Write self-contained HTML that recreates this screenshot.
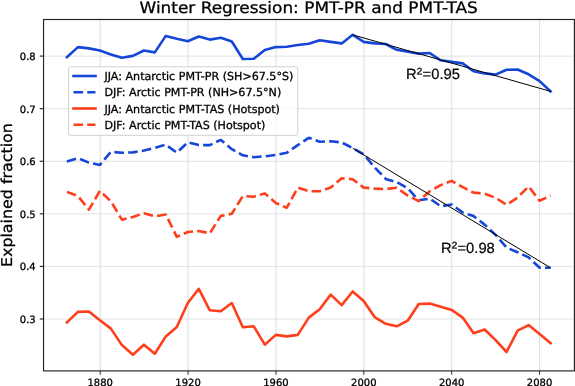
<!DOCTYPE html>
<html><head><meta charset="utf-8"><title>Winter Regression: PMT-PR and PMT-TAS</title>
<style>
html,body{margin:0;padding:0;background:#fff;overflow:hidden;}
svg{display:block}
text{text-rendering:geometricPrecision;font-family:"DejaVu Sans","Liberation Sans",sans-serif;fill:#000;stroke:#000;stroke-width:0.3px}
.r2{font-family:"Liberation Sans",Arial,sans-serif;font-size:14.75px;stroke-width:0.2px}
.tick{font-size:10.0px}
.leg{font-size:11.1px}
</style></head><body>
<svg width="575" height="386" viewBox="0 0 575 386">
<rect width="575" height="386" fill="#fff"/>

<line x1="100.20" y1="19.5" x2="100.20" y2="370.9" stroke="#d9d9d9" stroke-width="0.9"/>
<line x1="188.08" y1="19.5" x2="188.08" y2="370.9" stroke="#d9d9d9" stroke-width="0.9"/>
<line x1="275.96" y1="19.5" x2="275.96" y2="370.9" stroke="#d9d9d9" stroke-width="0.9"/>
<line x1="363.84" y1="19.5" x2="363.84" y2="370.9" stroke="#d9d9d9" stroke-width="0.9"/>
<line x1="451.72" y1="19.5" x2="451.72" y2="370.9" stroke="#d9d9d9" stroke-width="0.9"/>
<line x1="539.60" y1="19.5" x2="539.60" y2="370.9" stroke="#d9d9d9" stroke-width="0.9"/>
<line x1="43.55" y1="56.10" x2="574.4" y2="56.10" stroke="#dcdcdc" stroke-width="0.8"/>
<line x1="43.55" y1="108.68" x2="574.4" y2="108.68" stroke="#dcdcdc" stroke-width="0.8"/>
<line x1="43.55" y1="161.26" x2="574.4" y2="161.26" stroke="#dcdcdc" stroke-width="0.8"/>
<line x1="43.55" y1="213.84" x2="574.4" y2="213.84" stroke="#dcdcdc" stroke-width="0.8"/>
<line x1="43.55" y1="266.42" x2="574.4" y2="266.42" stroke="#dcdcdc" stroke-width="0.8"/>
<line x1="43.55" y1="319.00" x2="574.4" y2="319.00" stroke="#dcdcdc" stroke-width="0.8"/>
<polyline points="66.9,57.2 77.9,47.1 88.9,48.4 99.9,50.5 110.9,54.4 121.9,57.8 132.9,55.9 143.9,50.5 154.8,52.4 165.8,35.9 176.8,38.8 187.8,41.3 198.8,36.5 209.8,39.6 220.8,37.7 231.8,41.5 242.8,59.0 253.8,58.8 264.8,49.9 275.8,47.1 286.8,46.7 297.8,45.0 308.8,43.8 319.7,40.2 330.7,41.9 341.7,43.4 352.7,34.8 363.7,41.9 374.7,43.4 385.7,44.0 396.7,49.8 407.7,51.7 418.7,53.6 429.7,53.0 440.7,60.3 451.7,61.9 462.7,63.4 473.6,71.2 484.6,73.4 495.6,74.6 506.6,69.8 517.6,69.5 528.6,74.3 539.6,81.1 550.6,91.4" fill="none" stroke="#1646d8" stroke-width="2.6" stroke-linejoin="round" stroke-linecap="square"/>
<polyline points="66.9,161.6 77.9,158.2 88.9,162.6 99.9,164.9 110.9,151.8 121.9,152.8 132.9,152.4 143.9,150.5 154.8,148.0 165.8,144.7 176.8,152.6 187.8,142.4 198.8,145.1 209.8,145.1 220.8,139.9 231.8,149.2 242.8,155.3 253.8,157.2 264.8,156.3 275.8,154.9 286.8,152.8 297.8,145.1 308.8,137.8 319.7,141.7 330.7,141.3 341.7,142.4 352.7,148.2 363.7,154.3 374.7,167.4 385.7,178.9 396.7,182.1 407.7,188.2 418.7,200.3 429.7,198.6 440.7,206.3 451.7,204.5 462.7,212.5 473.6,216.1 484.6,224.6 495.6,234.9 506.6,247.6 517.6,252.2 528.6,257.4 539.6,267.8 550.6,267.8" fill="none" stroke="#1646d8" stroke-width="2.6" stroke-linejoin="round" stroke-dasharray="9.6 4.2"/>
<polyline points="66.9,322.4 77.9,311.9 88.9,311.5 99.9,320.3 110.9,328.6 121.9,345.1 132.9,354.7 143.9,344.7 154.8,353.7 165.8,336.4 176.8,327.0 187.8,303.0 198.8,288.8 209.8,310.3 220.8,311.3 231.8,303.0 242.8,327.2 253.8,326.3 264.8,344.7 275.8,334.9 286.8,336.4 297.8,334.9 308.8,317.6 319.7,309.2 330.7,294.6 341.7,305.1 352.7,291.5 363.7,300.9 374.7,317.2 385.7,323.8 396.7,326.3 407.7,320.7 418.7,304.0 429.7,303.6 440.7,306.7 451.7,309.9 462.7,317.6 473.6,333.2 484.6,329.5 495.6,340.1 506.6,352.0 517.6,330.6 528.6,325.1 539.6,334.1 550.6,343.1" fill="none" stroke="#ff3e1c" stroke-width="2.6" stroke-linejoin="round" stroke-linecap="square"/>
<polyline points="66.9,191.9 77.9,196.1 88.9,209.7 99.9,190.9 110.9,201.3 121.9,219.7 132.9,217.0 143.9,213.2 154.8,216.3 165.8,214.5 176.8,236.8 187.8,232.0 198.8,231.0 209.8,233.3 220.8,215.9 231.8,213.8 242.8,196.1 253.8,196.7 264.8,193.4 275.8,203.0 286.8,207.7 297.8,187.6 308.8,191.3 319.7,191.3 330.7,187.6 341.7,178.2 352.7,179.2 363.7,187.6 374.7,188.6 385.7,189.1 396.7,187.8 407.7,195.5 418.7,201.1 429.7,191.3 440.7,185.1 451.7,180.9 462.7,187.2 473.6,192.6 484.6,193.6 495.6,197.8 506.6,204.7 517.6,197.6 528.6,186.5 539.6,200.7 550.6,195.5" fill="none" stroke="#ff3e1c" stroke-width="2.6" stroke-linejoin="round" stroke-dasharray="9.6 4.2"/>
<line x1="352.7" y1="34.8" x2="550.6" y2="91.4" stroke="#000" stroke-width="1.0"/>
<line x1="352.7" y1="148.2" x2="550.6" y2="267.8" stroke="#000" stroke-width="1.0"/>
<rect x="43.55" y="19.5" width="530.85" height="351.4" fill="none" stroke="#222" stroke-width="1.15"/>
<line x1="100.20" y1="370.9" x2="100.20" y2="374.79999999999995" stroke="#1a1a1a" stroke-width="0.9"/>
<line x1="188.08" y1="370.9" x2="188.08" y2="374.79999999999995" stroke="#1a1a1a" stroke-width="0.9"/>
<line x1="275.96" y1="370.9" x2="275.96" y2="374.79999999999995" stroke="#1a1a1a" stroke-width="0.9"/>
<line x1="363.84" y1="370.9" x2="363.84" y2="374.79999999999995" stroke="#1a1a1a" stroke-width="0.9"/>
<line x1="451.72" y1="370.9" x2="451.72" y2="374.79999999999995" stroke="#1a1a1a" stroke-width="0.9"/>
<line x1="539.60" y1="370.9" x2="539.60" y2="374.79999999999995" stroke="#1a1a1a" stroke-width="0.9"/>
<line x1="39.75" y1="56.10" x2="43.55" y2="56.10" stroke="#1a1a1a" stroke-width="1.1"/>
<line x1="39.75" y1="108.68" x2="43.55" y2="108.68" stroke="#1a1a1a" stroke-width="1.1"/>
<line x1="39.75" y1="161.26" x2="43.55" y2="161.26" stroke="#1a1a1a" stroke-width="1.1"/>
<line x1="39.75" y1="213.84" x2="43.55" y2="213.84" stroke="#1a1a1a" stroke-width="1.1"/>
<line x1="39.75" y1="266.42" x2="43.55" y2="266.42" stroke="#1a1a1a" stroke-width="1.1"/>
<line x1="39.75" y1="319.00" x2="43.55" y2="319.00" stroke="#1a1a1a" stroke-width="1.1"/>
<text class="tick" x="100.20" y="386.2" text-anchor="middle">1880</text>
<text class="tick" x="188.08" y="386.2" text-anchor="middle">1920</text>
<text class="tick" x="275.96" y="386.2" text-anchor="middle">1960</text>
<text class="tick" x="363.84" y="386.2" text-anchor="middle">2000</text>
<text class="tick" x="451.72" y="386.2" text-anchor="middle">2040</text>
<text class="tick" x="539.60" y="386.2" text-anchor="middle">2080</text>
<text class="tick" x="35.7" y="60.13" text-anchor="end">0.8</text>
<text class="tick" x="35.7" y="112.71" text-anchor="end">0.7</text>
<text class="tick" x="35.7" y="165.29" text-anchor="end">0.6</text>
<text class="tick" x="35.7" y="217.87" text-anchor="end">0.5</text>
<text class="tick" x="35.7" y="270.45" text-anchor="end">0.4</text>
<text class="tick" x="35.7" y="323.03" text-anchor="end">0.3</text>
<text transform="translate(308.65,12.8) scale(1,0.93)" text-anchor="middle" font-size="16.92px">Winter Regression: PMT-PR and PMT-TAS</text>
<text transform="translate(12.4,195.1) rotate(-90) scale(1,0.94)" text-anchor="middle" font-size="15.86px">Explained fraction</text>
<text class="r2" x="406.1" y="78.7">R<tspan font-size="16.3px" dy="0.4">²</tspan><tspan dy="-0.4" dx="0.4">=0.95</tspan></text>
<text class="r2" x="441.0" y="252.9">R<tspan font-size="16.3px" dy="0.4">²</tspan><tspan dy="-0.4" dx="0.4">=0.98</tspan></text>
<rect x="68.6" y="66.8" width="229.2" height="68.5" rx="2.2" ry="2.2" fill="#fff" fill-opacity="0.8" stroke="#cccccc" stroke-width="0.9"/>
<line x1="73.5" y1="76.0" x2="95.5" y2="76.0" stroke="#1646d8" stroke-width="2.6" stroke-linecap="square"/>
<text class="leg" x="104.5" y="80.0">JJA: Antarctic PMT-PR (SH&gt;67.5°S)</text>
<line x1="73.5" y1="92.2" x2="95.5" y2="92.2" stroke="#1646d8" stroke-width="2.6" stroke-dasharray="9.6 4.2"/>
<text class="leg" x="104.5" y="96.2">DJF: Arctic PMT-PR (NH&gt;67.5°N)</text>
<line x1="73.5" y1="108.5" x2="95.5" y2="108.5" stroke="#ff3e1c" stroke-width="2.6" stroke-linecap="square"/>
<text class="leg" x="104.5" y="112.5">JJA: Antarctic PMT-TAS (Hotspot)</text>
<line x1="73.5" y1="124.7" x2="95.5" y2="124.7" stroke="#ff3e1c" stroke-width="2.6" stroke-dasharray="9.6 4.2"/>
<text class="leg" x="104.5" y="128.7">DJF: Arctic PMT-TAS (Hotspot)</text>
</svg></body></html>
